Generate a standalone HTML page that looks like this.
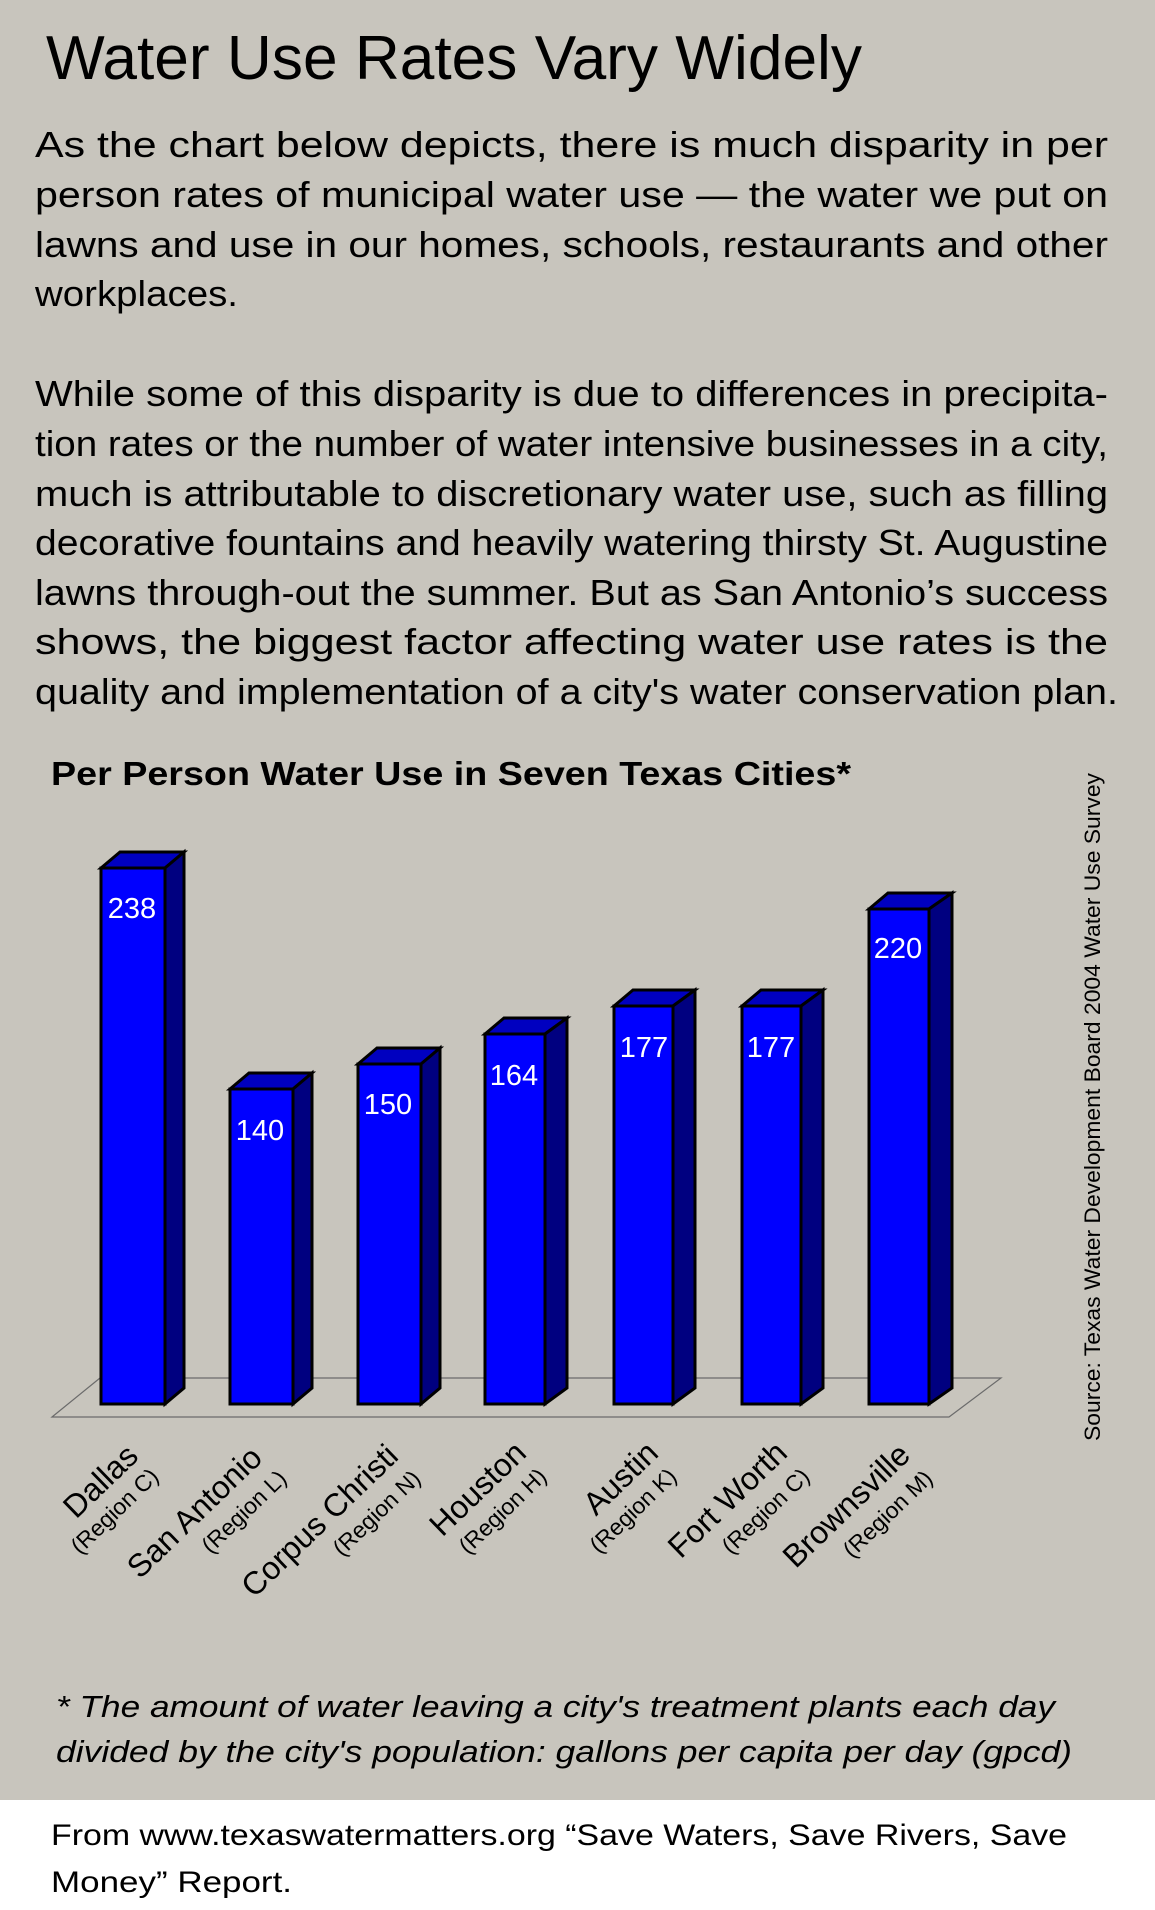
<!DOCTYPE html>
<html><head><meta charset="utf-8"><style>html,body{margin:0;padding:0;background:#c8c5bd}svg{display:block}</style></head>
<body>
<svg width="1155" height="1910" viewBox="0 0 1155 1910" xmlns="http://www.w3.org/2000/svg" font-family="'Liberation Sans', sans-serif">
<rect x="0" y="0" width="1155" height="1910" fill="#c8c5bd"/>
<rect x="0" y="1800" width="1155" height="110" fill="#ffffff"/>
<text x="46" y="79" font-size="62" fill="#000" textLength="816" lengthAdjust="spacingAndGlyphs">Water Use Rates Vary Widely</text>
<g font-size="36" fill="#000" lengthAdjust="spacingAndGlyphs">
<text x="35" y="157" textLength="1073" lengthAdjust="spacingAndGlyphs">As the chart below depicts, there is much disparity in per</text>
<text x="35" y="207" textLength="1073" lengthAdjust="spacingAndGlyphs">person rates of municipal water use — the water we put on</text>
<text x="35" y="257" textLength="1073" lengthAdjust="spacingAndGlyphs">lawns and use in  our homes, schools, restaurants and other</text>
<text x="35" y="306" textLength="203" lengthAdjust="spacingAndGlyphs">workplaces.</text>
<text x="35" y="406" textLength="1073" lengthAdjust="spacingAndGlyphs">While some of this disparity is due to differences in precipita-</text>
<text x="35" y="456" textLength="1073" lengthAdjust="spacingAndGlyphs">tion rates or the number of water intensive businesses in a city,</text>
<text x="35" y="506" textLength="1073" lengthAdjust="spacingAndGlyphs">much is attributable to discretionary water use, such as filling</text>
<text x="35" y="555" textLength="1073" lengthAdjust="spacingAndGlyphs">decorative fountains and heavily watering thirsty St. Augustine</text>
<text x="35" y="605" textLength="1073" lengthAdjust="spacingAndGlyphs">lawns through-out the summer. But as San Antonio’s success</text>
<text x="35" y="654" textLength="1073" lengthAdjust="spacingAndGlyphs">shows, the biggest factor affecting water use rates is the</text>
<text x="35" y="704" textLength="1083" lengthAdjust="spacingAndGlyphs">quality and implementation of a city's water conservation plan.</text>
</g>
<text x="51" y="785" font-size="33" font-weight="bold" fill="#000" textLength="800" lengthAdjust="spacingAndGlyphs">Per Person Water Use in Seven Texas Cities*</text>
<text transform="translate(1100,1441) rotate(-90)" font-size="22" fill="#000" textLength="668" lengthAdjust="spacingAndGlyphs">Source: Texas Water Development Board 2004 Water Use Survey</text>
<polygon points="52,1417 100,1378 1001,1378 949,1417" fill="none" stroke="#6b6b6b" stroke-width="1.2"/>
<g stroke="#000" stroke-width="3" stroke-linejoin="miter">
<g>
<polygon points="101,868 120,852 184,852 165,868" fill="#0000c0"/>
<polygon points="165,868 184,852 184,1388 165,1404" fill="#000080"/>
<rect x="101" y="868" width="64" height="536" fill="#0000ff"/>
</g>
<g>
<polygon points="230,1089 249,1073 312,1073 293,1089" fill="#0000c0"/>
<polygon points="293,1089 312,1073 312,1388 293,1404" fill="#000080"/>
<rect x="230" y="1089" width="63" height="315" fill="#0000ff"/>
</g>
<g>
<polygon points="358,1064 377,1048 440,1048 421,1064" fill="#0000c0"/>
<polygon points="421,1064 440,1048 440,1388 421,1404" fill="#000080"/>
<rect x="358" y="1064" width="63" height="340" fill="#0000ff"/>
</g>
<g>
<polygon points="485,1034 504,1018 567,1018 545,1034" fill="#0000c0"/>
<polygon points="545,1034 567,1018 567,1388 545,1404" fill="#000080"/>
<rect x="485" y="1034" width="60" height="370" fill="#0000ff"/>
</g>
<g>
<polygon points="614,1006 633,990 695,990 673,1006" fill="#0000c0"/>
<polygon points="673,1006 695,990 695,1388 673,1404" fill="#000080"/>
<rect x="614" y="1006" width="59" height="398" fill="#0000ff"/>
</g>
<g>
<polygon points="742,1006 761,990 823,990 801,1006" fill="#0000c0"/>
<polygon points="801,1006 823,990 823,1388 801,1404" fill="#000080"/>
<rect x="742" y="1006" width="59" height="398" fill="#0000ff"/>
</g>
<g>
<polygon points="869,909 888,893 952,893 929,909" fill="#0000c0"/>
<polygon points="929,909 952,893 952,1388 929,1404" fill="#000080"/>
<rect x="869" y="909" width="60" height="495" fill="#0000ff"/>
</g>
</g>
<g font-size="29" fill="#fff" text-anchor="middle">
<text x="132" y="918">238</text>
<text x="260" y="1140">140</text>
<text x="388" y="1114">150</text>
<text x="514" y="1085">164</text>
<text x="644" y="1057">177</text>
<text x="771" y="1057">177</text>
<text x="898" y="958">220</text>
</g>
<g fill="#000" text-anchor="end">
<g font-size="32">
<text transform="translate(140,1458) rotate(-44)">Dallas</text>
<text transform="translate(264,1460) rotate(-44)">San Antonio</text>
<text transform="translate(400,1458) rotate(-44)">Corpus Christi</text>
<text transform="translate(528,1455) rotate(-44)">Houston</text>
<text transform="translate(660,1455) rotate(-44)">Austin</text>
<text transform="translate(789,1455) rotate(-44)">Fort Worth</text>
<text transform="translate(912,1457) rotate(-44)">Brownsville</text>
</g>
<g font-size="23">
<text transform="translate(160,1478) rotate(-44)">(Region C)</text>
<text transform="translate(288,1480) rotate(-44)">(Region L)</text>
<text transform="translate(422,1480) rotate(-44)">(Region N)</text>
<text transform="translate(548,1478) rotate(-44)">(Region H)</text>
<text transform="translate(678,1478) rotate(-44)">(Region K)</text>
<text transform="translate(811,1478) rotate(-44)">(Region C)</text>
<text transform="translate(934,1480) rotate(-44)">(Region M)</text>
</g>
</g>
<g font-size="31" font-style="italic" fill="#000">
<text x="56" y="1717" textLength="999" lengthAdjust="spacingAndGlyphs">* The amount of water leaving a city's treatment plants each day</text>
<text x="56" y="1762" textLength="1016" lengthAdjust="spacingAndGlyphs">divided by the city's population: gallons per capita per day (gpcd)</text>
</g>
<g font-size="30" fill="#000">
<text x="51" y="1845" textLength="1016" lengthAdjust="spacingAndGlyphs">From www.texaswatermatters.org “Save Waters, Save Rivers, Save</text>
<text x="51" y="1892" textLength="241" lengthAdjust="spacingAndGlyphs">Money” Report.</text>
</g>
</svg>
</body></html>
